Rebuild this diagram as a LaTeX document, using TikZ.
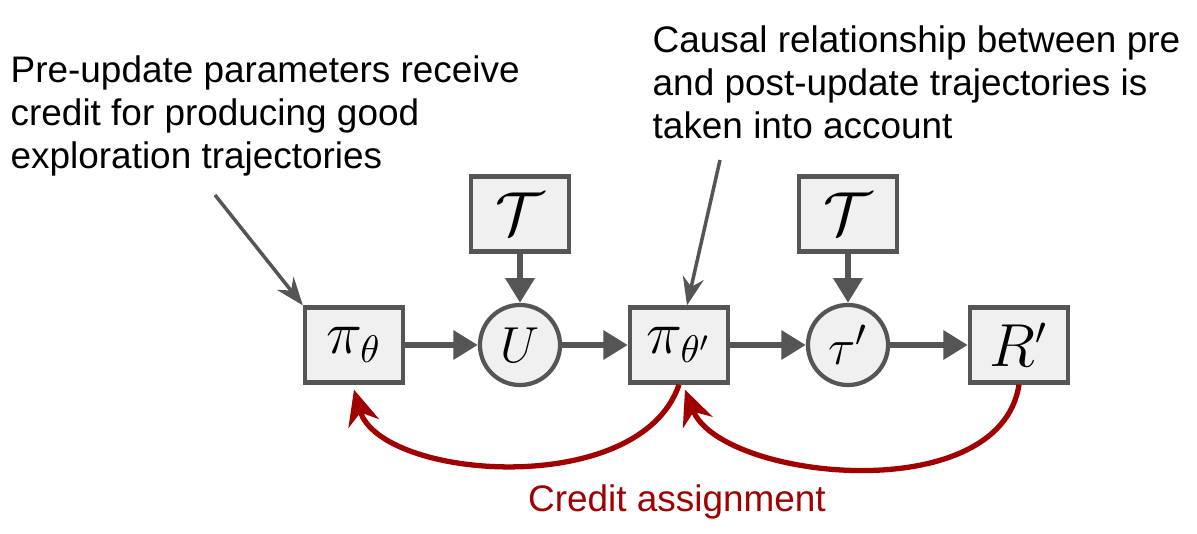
\documentclass[tikz,border=0pt]{standalone}
\usepackage{fontspec}
\setmainfont{Liberation Sans}
\usetikzlibrary{arrows.meta}
\definecolor{dg}{HTML}{555555}
\definecolor{cred}{HTML}{A00000}
\begin{document}
\begin{tikzpicture}[x=0.01cm,y=-0.01cm,
 box/.style={draw=dg,fill=gray!12,line width=1.2pt,minimum width=0.98cm,minimum height=0.75cm,inner sep=0pt,font=\fontsize{16}{18}\selectfont},
 circ/.style={draw=dg,fill=gray!12,line width=1.2pt,circle,minimum size=0.8cm,inner sep=0pt,font=\fontsize{15}{17}\selectfont},
 flow/.style={draw=dg,line width=1.8pt,-{Triangle[length=7pt,width=8pt]}},
 note/.style={draw=dg,line width=1pt,-{Stealth[length=8pt,width=6pt]}},
 credit/.style={draw=cred,line width=1.5pt,-{Stealth[length=10pt,width=9pt]}},
 txt/.style={align=left,anchor=north west,inner sep=0pt,font=\fontsize{10.5}{12.2}\selectfont}]
\useasboundingbox (0,0) rectangle (1197,534);
\node[box] (p) at (354,345) {$\pi_\theta$};
\node[circ] (u) at (520,345) {$U$};
\node[box] (pp) at (679,345) {$\pi_{\theta'}$};
\node[circ] (t) at (848,345) {$\tau'$};
\node[box] (r) at (1019,345) {$R'$};
\node[box] (T1) at (520,214) {$\mathcal{T}$};
\node[box] (T2) at (848,214) {$\mathcal{T}$};
\draw[flow] (p) -- (u);
\draw[flow] (u) -- (pp);
\draw[flow] (pp) -- (t);
\draw[flow] (t) -- (r);
\draw[flow] (T1) -- (u);
\draw[flow] (T2) -- (t);
\node[txt] (a) at (10,55) {Pre-update parameters receive\\credit for producing good\\exploration trajectories};
\node[txt] (b) at (652,25) {Causal relationship between pre\\and post-update trajectories is\\taken into account};
\coordinate (a1) at (215,195);
\coordinate (b1) at (720,160);
\draw[note] (a1) -- (p.north west);
\draw[note] (b1) -- ([xshift=0.08cm]pp.north);
\draw[credit] (pp.south) .. controls (640,500) and (380,480) .. ([yshift=-0.05cm]p.south);
\draw[credit] (r.south) .. controls (1000,510) and (720,480) .. ([xshift=0.06cm,yshift=-0.05cm]pp.south);
\node[text=cred,font=\fontsize{10.5}{12}\selectfont] (c) at (677,502) {Credit assignment};
\end{tikzpicture}
\end{document}
